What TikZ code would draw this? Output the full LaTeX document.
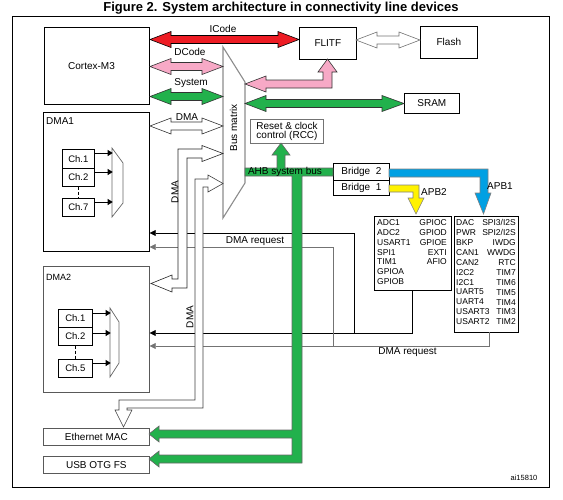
\documentclass[tikz,border=0pt]{standalone}
\usepackage{fontspec}
\setmainfont{Liberation Sans}
\usetikzlibrary{arrows.meta,calc}
\definecolor{icred}{HTML}{ED1C24}
\definecolor{dpink}{HTML}{F7A9C6}
\definecolor{sgreen}{HTML}{22B14C}
\definecolor{apbblue}{HTML}{00A0E3}
\definecolor{apbyellow}{HTML}{FFF200}
\newcommand\dblarrow[5]{%
  \filldraw[blk, fill=#4, draw=#5] (#1,#3) -- ({#1+21},{#3-8}) -- ({#1+21},{#3-4}) -- ({#2-21},{#3-4}) -- ({#2-21},{#3-8}) -- (#2,#3) -- ({#2-21},{#3+8}) -- ({#2-21},{#3+4}) -- ({#1+21},{#3+4}) -- ({#1+21},{#3+8}) -- cycle;}
\begin{document}
\begin{tikzpicture}[x=1pt,y=-1pt,
  box/.style={draw=black, line width=0.7pt, inner sep=0pt, anchor=north west, font=\fontsize{10}{12}\selectfont},
  gbox/.style={box, draw=black!65},
  chbox/.style={box, font=\fontsize{9.5}{11}\selectfont},
  lbl/.style={font=\fontsize{10}{12}\selectfont, inner sep=0pt},
  plist/.style={font=\fontsize{8.5}{9.8}\selectfont, inner sep=0pt},
  blk/.style={line width=0.6pt, line join=miter},
  charr/.style={line width=0.7pt, -{Triangle[length=5pt,width=6pt]}},
  req/.style={line width=0.7pt, -{Triangle[length=6pt,width=6pt]}},
  reqg/.style={req, draw=black!55},
]
\useasboundingbox (0,0) rectangle (563,499);
% title and frame
\node[font=\bfseries\fontsize{13}{15}\selectfont, inner sep=0pt] (title) at (281,8.5) {Figure 2. System architecture in connectivity line devices};
\draw[line width=0.9pt] (12,16) rectangle (549,487);
\node[font=\fontsize{7.5}{9}\selectfont, inner sep=0pt] (ai) at (524,478) {ai15810};

% boxes
\node[box, minimum width=105pt, minimum height=77pt] (cortex) at (44,27) {};
\node[lbl] (cortexlbl) at (91.5,66) {Cortex-M3};
\node[box, minimum width=106pt, minimum height=139pt] (dma1) at (43,112) {};
\node[lbl, anchor=west] (dma1lbl) at (46,121.5) {DMA1};
\node[gbox, minimum width=106pt, minimum height=126pt] (dma2) at (43,266) {};
\node[lbl, anchor=west, font=\fontsize{9}{11}\selectfont] (dma2lbl) at (46,277) {DMA2};
\node[gbox, minimum width=106pt, minimum height=17pt] (eth) at (43,428) {Ethernet MAC};
\node[gbox, minimum width=106pt, minimum height=17pt] (usb) at (43,456) {USB OTG FS};
\node[box, minimum width=57pt, minimum height=32pt] (flitf) at (299,27) {FLITF};
\node[box, minimum width=57pt, minimum height=32pt] (flash) at (420,26) {Flash};
\node[box, minimum width=55pt, minimum height=20pt] (sram) at (404,93) {SRAM};
\node[box, draw=black!55, line width=1pt, minimum width=73pt, minimum height=24pt, align=center, font=\fontsize{10}{9.5}\selectfont] (rcc) at (250,119) {Reset \& clock\\control (RCC)};
\node[box, minimum width=56pt, minimum height=17pt] (br2) at (333,163) {Bridge\ \ 2};
\node[box, minimum width=56pt, minimum height=15pt] (br1) at (333,180) {Bridge\ \ 1};
\node[box, minimum width=77pt, minimum height=74pt] (apb2) at (374,216) {};
\node[box, minimum width=64pt, minimum height=116pt] (apb1) at (454,216) {};

% channel boxes
\node[chbox, minimum width=32pt, minimum height=19pt] (c11) at (62,149) {Ch.1};
\node[chbox, minimum width=32pt, minimum height=18pt] (c12) at (62,168) {Ch.2};
\node[chbox, minimum width=32pt, minimum height=18pt] (c17) at (62,198) {Ch.7};
\node[chbox, minimum width=34pt, minimum height=18pt] (c21) at (58,309) {Ch.1};
\node[chbox, minimum width=34pt, minimum height=18pt] (c22) at (58,327) {Ch.2};
\node[chbox, minimum width=34pt, minimum height=18pt] (c25) at (58,359) {Ch.5};
\draw[densely dashed, line width=0.6pt] (c12.south -| 78,0) -- (c17.north -| 78,0);
\draw[densely dashed, line width=0.6pt] (c22.south -| 75,0) -- (c25.north -| 75,0);
% muxes
\draw[draw=black!60, line width=0.7pt] (112,148) coordinate (m1) -- (123,163) -- (123,203) -- (112,217) -- cycle;
\draw[draw=black!60, line width=0.7pt] (110,308) coordinate (m2) -- (119,322) -- (119,363) -- (110,377) -- cycle;
\draw[charr] ([yshift=-4pt]c11.north east) -- ++(18,0);
\draw[charr] ([yshift=-4pt]c12.north east) -- ++(18,0);
\draw[charr] ([yshift=-4pt]c17.north east) -- ++(18,0);
\draw[charr] ([yshift=-4pt]c21.north east) -- ++(18,0);
\draw[charr] ([yshift=-6pt]c22.north east) -- ++(18,0);
\draw[charr] ([yshift=-4pt]c25.north east) -- ++(18,0);

% DMA request lines
\draw[req] (412,290) -- (412,333) -- (dma2.east |- 0,333);
\draw[req] (354,333) -- (354,233) -- (dma1.east |- 0,233);
\draw[reqg] (489,332) -- (489,346) -- (dma2.east |- 0,346);
\draw[reqg] (333,346) -- (333,247) -- (dma1.east |- 0,247);
\node[lbl] (req1) at (255,241.5) {DMA request};
\node[lbl] (req2) at (407.5,352) {DMA request};

% bus matrix
\filldraw[fill=white, draw=black!45, line width=1.1pt] (223,47) coordinate (bm) -- (245,82) -- (245,183) -- (223,218) -- cycle;
\node[lbl, rotate=90] (bmlbl) at (233.5,128) {Bus matrix};

% double arrows
\dblarrow{150}{299}{39.5}{icred}{black}
\node[lbl] (icode) at (223,29) {ICode};
\dblarrow{150}{223}{66.5}{dpink}{black!80}
\node[lbl] (dcode) at (190,52) {DCode};
\dblarrow{150}{223}{96.5}{sgreen}{black!80}
\node[lbl] (sys) at (191,83.5) {System};
\dblarrow{150}{223}{126}{white}{black!80}
\node[lbl] (dmal) at (187,117) {DMA};
\dblarrow{356}{420}{40}{white}{black!55}

% pink to FLITF
\filldraw[blk, fill=dpink, draw=black!80] (245,84) -- (266,76) -- (266,80) -- (323,80) -- (323,72) -- (318,72) -- (327.5,59) -- (337,72) -- (332,72) -- (332,88) -- (266,88) -- (266,92) -- cycle;
% green to SRAM
\filldraw[blk, fill=sgreen, draw=black!80] (245,103.5) -- (266,95.5) -- (266,99.5) -- (382,99.5) -- (382,95.5) -- (404,103.5) -- (382,111.5) -- (382,107.5) -- (266,107.5) -- (266,111.5) -- cycle;

% white DMA arrows
\filldraw[blk, fill=white, draw=black!85] (223,153.5) -- (202,145.5) -- (202,149) -- (178,149) -- (178,279) -- (172,279) -- (172,275) -- (151,283.5) -- (172,292) -- (172,288) -- (187,288) -- (187,158) -- (202,158) -- (202,161.5) -- cycle;
\node[lbl, rotate=90] (dmav1) at (175,192) {DMA};
\filldraw[blk, fill=white, draw=black!75] (223,183.5) -- (208,175) -- (208,179) -- (195,179) -- (195,400) -- (119,400) -- (119,410) -- (115,410) -- (123.5,427) -- (132,410) -- (127,410) -- (127,408) -- (203,408) -- (203,187) -- (208,187) -- (208,192) -- cycle;
\node[lbl, rotate=90] (dmav2) at (190,317) {DMA};

% AHB bus (green)
\filldraw[blk, fill=sgreen, draw=black!60] (245,168) -- (277,168) -- (277,155) -- (272,155) -- (281,143) -- (290,155) -- (285,155) -- (285,168) -- (333,168) -- (333,176) -- (302,176) -- (302,463) -- (159,463) -- (159,467) -- (149,459) -- (159,451) -- (159,455) -- (292,455) -- (292,438) -- (159,438) -- (159,442) -- (149,434) -- (159,426) -- (159,430) -- (292,430) -- (292,176) -- (245,176) -- cycle;
\node[lbl] (ahb) at (285,172) {AHB system bus};

% APB arrows
\filldraw[blk, fill=apbblue, draw=black!50] (389,169) -- (488,169) -- (488,193) -- (491,193) -- (483.5,214) -- (475,193) -- (480,193) -- (480,177) -- (389,177) -- cycle;
\node[lbl] (apb1lbl) at (500,186) {APB1};
\filldraw[blk, fill=apbyellow, draw=black!50] (389,185) -- (419,185) -- (419,198) -- (424,198) -- (416,214) -- (408,198) -- (413,198) -- (413,192) -- (389,192) -- cycle;
\node[lbl] (apb2lbl) at (434,192) {APB2};

% peripheral lists
\node[plist, anchor=north west, align=left] (p2l) at (377,219.5) {ADC1\\ADC2\\USART1\\SPI1\\TIM1\\GPIOA\\GPIOB};
\node[plist, anchor=north east, align=right] (p2r) at (447,219.5) {GPIOC\\GPIOD\\GPIOE\\EXTI\\AFIO};
\node[plist, anchor=north west, align=left, font=\fontsize{8.5}{9.9}\selectfont] (p1l) at (456,219.5) {DAC\\PWR\\BKP\\CAN1\\CAN2\\I2C2\\I2C1\\UART5\\UART4\\USART3\\USART2};
\node[plist, anchor=north east, align=right, font=\fontsize{8.5}{9.9}\selectfont] (p1r) at (516,219.5) {SPI3/I2S\\SPI2/I2S\\IWDG\\WWDG\\RTC\\TIM7\\TIM6\\TIM5\\TIM4\\TIM3\\TIM2};
\end{tikzpicture}
\end{document}
